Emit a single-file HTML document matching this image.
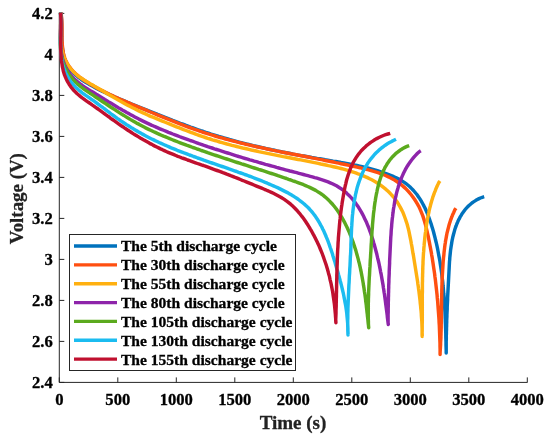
<!DOCTYPE html><html><head><meta charset="utf-8"><title>Discharge curves</title>
<style>html,body{margin:0;padding:0;background:#fff}svg{display:block}text{font-family:"Liberation Serif",serif;font-weight:bold;fill:#000;stroke:#000;stroke-width:0.3px}</style></head><body>
<svg width="550" height="436" viewBox="0 0 550 436">
<rect width="550" height="436" fill="#fff"/>
<path d="M59.3,12.9V382.4H527.5M59.3,382.4v-5M117.8,382.4v-5M176.3,382.4v-5M234.8,382.4v-5M293.3,382.4v-5M351.8,382.4v-5M410.3,382.4v-5M468.8,382.4v-5M527.3,382.4v-5M59.3,382.4h5M59.3,341.4h5M59.3,300.4h5M59.3,259.4h5M59.3,218.4h5M59.3,177.4h5M59.3,136.4h5M59.3,95.4h5M59.3,54.4h5M59.3,13.4h5" fill="none" stroke="#262626" stroke-width="1"/>
<g fill="none" stroke-width="3.45" stroke-linejoin="round" stroke-linecap="butt">
<path stroke="#0072BD" d="M60.8,12.6 61.1,15.3 61.4,18.0 61.6,20.6 61.7,23.3 61.7,26.0 61.8,28.7 61.8,31.4 61.8,34.2 61.8,36.9 61.9,39.6 62.0,42.4 62.2,45.1 62.4,47.9 62.8,50.7 63.2,53.5 63.8,56.2 64.6,58.9 65.5,61.4 66.7,63.8 68.0,66.1 69.5,68.3 71.1,70.3 72.8,72.3 74.7,74.1 76.7,75.9 78.8,77.6 81.0,79.2 83.2,80.7 85.6,82.2 87.9,83.6 90.3,85.0 92.7,86.3 95.2,87.6 97.6,88.9 100.0,90.1 102.5,91.4 105.0,92.5 107.4,93.7 109.9,94.8 112.4,95.9 114.9,97.0 117.4,98.1 119.9,99.2 122.4,100.2 124.9,101.2 127.4,102.3 129.9,103.3 132.4,104.3 134.9,105.3 137.4,106.3 139.9,107.3 142.5,108.3 145.0,109.3 147.5,110.3 150.0,111.3 152.5,112.3 155.1,113.3 157.6,114.4 160.1,115.4 162.6,116.4 165.1,117.4 167.7,118.4 170.2,119.4 172.7,120.4 175.3,121.3 177.8,122.3 180.3,123.3 182.9,124.2 185.4,125.2 188.0,126.1 190.5,127.1 193.1,128.0 195.6,128.9 198.2,129.8 200.8,130.7 203.4,131.5 205.9,132.4 208.5,133.2 211.1,134.1 213.7,134.9 216.3,135.7 218.9,136.5 221.5,137.2 224.1,138.0 226.8,138.7 229.4,139.5 232.0,140.2 234.6,140.9 237.3,141.6 239.9,142.3 242.5,143.0 245.2,143.6 247.8,144.3 250.5,144.9 253.1,145.6 255.8,146.2 258.4,146.8 261.1,147.4 263.7,148.0 266.4,148.6 269.1,149.2 271.7,149.8 274.4,150.3 277.0,150.9 279.7,151.4 282.4,152.0 285.0,152.5 287.7,153.0 290.4,153.5 293.1,154.1 295.7,154.6 298.4,155.1 301.1,155.6 303.7,156.0 306.4,156.5 309.1,157.0 311.8,157.5 314.4,157.9 317.1,158.4 319.8,158.8 322.4,159.3 325.1,159.8 327.8,160.2 330.4,160.6 333.1,161.1 335.7,161.5 338.4,162.0 341.1,162.5 343.7,162.9 346.4,163.4 349.0,163.9 351.7,164.4 354.3,165.0 357.0,165.5 359.6,166.1 362.3,166.7 364.9,167.4 367.6,168.0 370.2,168.7 372.9,169.4 375.5,170.2 378.2,171.0 380.8,171.8 383.4,172.7 386.1,173.6 388.7,174.6 391.3,175.6 393.8,176.7 396.3,177.9 398.8,179.1 401.2,180.5 403.5,181.9 405.7,183.4 407.8,185.0 409.8,186.7 411.7,188.6 413.5,190.5 415.2,192.5 416.9,194.5 418.4,196.7 419.9,198.9 421.3,201.2 422.6,203.5 423.9,205.9 425.1,208.3 426.2,210.8 427.3,213.4 428.3,215.9 429.3,218.5 430.2,221.2 431.1,223.8 431.9,226.5 432.7,229.1 433.5,231.8 434.2,234.5 434.9,237.2 435.5,239.8 436.2,242.5 436.8,245.2 437.4,247.9 437.9,250.5 438.4,253.2 438.9,255.9 439.4,258.5 439.9,261.2 440.3,263.9 440.7,266.6 441.1,269.2 441.5,271.9 441.8,274.6 442.1,277.2 442.5,279.9 442.8,282.6 443.0,285.3 443.3,287.9 443.5,290.6 443.7,293.3 444.0,296.0 444.2,298.7 444.3,301.3 444.5,304.0 444.7,306.7 444.8,309.4 445.0,312.1 445.1,314.8 445.2,317.5 445.3,320.2 445.4,323.0 445.5,325.7 445.6,328.4 445.7,331.1 445.8,333.9 445.8,336.6 445.9,339.3 446.0,342.1 446.0,344.8 446.1,347.6 446.2,350.4 446.2,353.1 446.2,351.1 446.2,349.2 446.2,347.2 446.2,345.3 446.2,343.3 446.2,341.4 446.3,339.5 446.3,337.5 446.3,335.6 446.4,333.7 446.4,331.8 446.5,329.9 446.5,328.0 446.6,326.1 446.6,324.2 446.7,322.3 446.7,320.4 446.8,318.5 446.9,316.6 446.9,314.7 447.0,312.9 447.1,311.0 447.2,309.1 447.2,307.2 447.3,305.3 447.4,303.4 447.5,301.6 447.6,299.7 447.6,297.8 447.7,295.9 447.8,294.0 447.9,292.1 448.0,290.3 448.1,288.4 448.2,286.5 448.3,284.6 448.4,282.7 448.5,280.8 448.6,278.9 448.7,276.9 448.8,275.0 448.9,273.1 449.0,271.2 449.1,269.3 449.2,267.3 449.3,265.4 449.4,263.5 449.5,261.5 449.7,259.6 449.8,257.6 450.0,255.7 450.2,253.8 450.4,251.9 450.6,249.9 450.9,248.0 451.2,246.1 451.5,244.2 451.8,242.3 452.1,240.4 452.5,238.6 452.9,236.7 453.4,234.8 453.9,233.0 454.4,231.1 454.9,229.3 455.5,227.5 456.2,225.7 456.8,224.0 457.6,222.2 458.3,220.5 459.2,218.9 460.0,217.2 461.0,215.6 461.9,214.0 463.0,212.5 464.1,211.0 465.2,209.5 466.4,208.1 467.7,206.8 469.0,205.5 470.5,204.2 471.9,203.0 473.5,201.9 475.1,200.9 476.8,199.8 478.6,198.9 480.4,198.0 482.3,197.3 484.2,196.7"/>
<path stroke="#FF4F10" d="M60.9,12.6 61.3,15.2 61.6,17.8 61.8,20.4 61.9,23.1 62.0,25.8 62.0,28.5 62.0,31.2 62.0,34.0 62.0,36.7 62.0,39.5 62.1,42.2 62.3,45.0 62.6,47.7 62.9,50.4 63.4,53.1 64.1,55.8 64.9,58.3 65.9,60.8 67.1,63.1 68.4,65.3 69.9,67.4 71.5,69.5 73.3,71.4 75.2,73.3 77.2,75.0 79.3,76.8 81.5,78.4 83.7,80.0 86.0,81.5 88.3,82.9 90.7,84.4 93.1,85.7 95.4,87.1 97.8,88.4 100.2,89.7 102.6,90.9 105.0,92.1 107.5,93.3 109.9,94.5 112.3,95.6 114.7,96.8 117.2,97.9 119.6,99.0 122.1,100.1 124.5,101.1 127.0,102.2 129.4,103.2 131.9,104.3 134.4,105.3 136.8,106.3 139.3,107.3 141.8,108.4 144.3,109.4 146.8,110.4 149.2,111.5 151.7,112.5 154.2,113.5 156.7,114.6 159.2,115.6 161.7,116.6 164.2,117.7 166.7,118.7 169.3,119.7 171.8,120.7 174.3,121.7 176.8,122.7 179.3,123.7 181.9,124.7 184.4,125.6 186.9,126.6 189.5,127.5 192.0,128.4 194.6,129.3 197.1,130.2 199.7,131.1 202.2,132.0 204.8,132.8 207.4,133.6 209.9,134.4 212.5,135.2 215.1,136.0 217.7,136.8 220.2,137.5 222.8,138.2 225.4,139.0 228.0,139.7 230.6,140.4 233.2,141.0 235.8,141.7 238.4,142.4 241.0,143.0 243.6,143.6 246.2,144.3 248.8,144.9 251.5,145.5 254.1,146.1 256.7,146.7 259.3,147.3 261.9,147.8 264.6,148.4 267.2,149.0 269.8,149.5 272.5,150.1 275.1,150.6 277.7,151.1 280.4,151.7 283.0,152.2 285.6,152.7 288.3,153.2 290.9,153.8 293.6,154.3 296.2,154.8 298.8,155.3 301.5,155.8 304.1,156.3 306.8,156.8 309.4,157.3 312.1,157.9 314.7,158.4 317.4,158.9 320.0,159.4 322.7,159.9 325.3,160.5 328.0,161.0 330.6,161.5 333.3,162.0 335.9,162.6 338.6,163.1 341.2,163.7 343.9,164.2 346.5,164.8 349.2,165.4 351.8,166.0 354.5,166.5 357.1,167.1 359.8,167.7 362.4,168.4 365.1,169.0 367.7,169.7 370.3,170.4 372.9,171.1 375.5,171.9 378.0,172.7 380.6,173.6 383.0,174.5 385.5,175.5 387.9,176.6 390.3,177.7 392.6,179.0 394.9,180.3 397.1,181.7 399.3,183.2 401.4,184.8 403.5,186.6 405.5,188.4 407.4,190.4 409.2,192.4 411.0,194.5 412.7,196.7 414.3,199.0 415.8,201.3 417.2,203.7 418.6,206.1 419.8,208.6 420.9,211.1 421.9,213.6 422.9,216.1 423.7,218.6 424.5,221.2 425.2,223.7 425.9,226.3 426.5,228.9 427.1,231.5 427.7,234.1 428.3,236.7 428.8,239.3 429.3,241.9 429.8,244.6 430.3,247.2 430.8,249.8 431.3,252.5 431.7,255.1 432.2,257.8 432.6,260.5 433.0,263.1 433.4,265.8 433.8,268.5 434.2,271.1 434.6,273.8 434.9,276.5 435.3,279.2 435.6,281.9 435.9,284.6 436.2,287.2 436.5,289.9 436.8,292.6 437.1,295.3 437.3,298.0 437.6,300.7 437.8,303.4 438.0,306.1 438.2,308.8 438.4,311.5 438.6,314.2 438.8,316.9 439.0,319.6 439.1,322.3 439.3,325.0 439.4,327.7 439.5,330.4 439.6,333.1 439.7,335.8 439.8,338.4 439.9,341.1 440.0,343.8 440.0,346.5 440.1,349.2 440.1,351.8 440.1,354.5 440.1,352.8 440.2,351.2 440.3,349.5 440.4,347.9 440.5,346.2 440.6,344.6 440.6,342.9 440.7,341.2 440.8,339.6 440.9,337.9 440.9,336.3 441.0,334.6 441.0,332.9 441.1,331.3 441.1,329.6 441.2,327.9 441.2,326.3 441.2,324.6 441.3,322.9 441.3,321.3 441.3,319.6 441.4,317.9 441.4,316.3 441.4,314.6 441.4,312.9 441.5,311.2 441.5,309.6 441.5,307.9 441.5,306.2 441.6,304.5 441.6,302.9 441.6,301.2 441.6,299.5 441.7,297.8 441.7,296.2 441.7,294.5 441.8,292.8 441.8,291.2 441.8,289.5 441.9,287.8 441.9,286.1 442.0,284.5 442.0,282.8 442.1,281.1 442.2,279.5 442.2,277.8 442.3,276.1 442.4,274.4 442.5,272.8 442.6,271.1 442.7,269.4 442.8,267.8 442.9,266.1 443.0,264.5 443.1,262.8 443.2,261.1 443.4,259.5 443.5,257.8 443.7,256.2 443.9,254.5 444.0,252.9 444.2,251.2 444.4,249.6 444.6,247.9 444.8,246.3 445.0,244.6 445.3,243.0 445.5,241.3 445.8,239.7 446.1,238.1 446.4,236.4 446.7,234.8 447.0,233.2 447.4,231.6 447.8,230.0 448.2,228.4 448.6,226.8 449.0,225.2 449.5,223.6 450.0,222.0 450.5,220.4 451.1,218.9 451.6,217.3 452.3,215.7 452.9,214.2 453.6,212.7 454.3,211.1 455.0,209.6 456.0,208.2"/>
<path stroke="#FFB010" d="M60.5,12.6 60.7,15.0 60.7,17.5 60.7,19.9 60.7,22.4 60.6,25.0 60.6,27.5 60.6,30.1 60.6,32.7 60.6,35.3 60.7,37.9 60.8,40.5 61.0,43.1 61.3,45.7 61.7,48.2 62.1,50.7 62.7,53.1 63.4,55.5 64.3,57.9 65.2,60.2 66.4,62.4 67.6,64.6 69.0,66.6 70.6,68.6 72.2,70.5 73.9,72.3 75.8,74.0 77.7,75.6 79.7,77.1 81.8,78.5 83.9,79.9 86.1,81.3 88.3,82.6 90.5,83.9 92.7,85.1 94.9,86.4 97.2,87.7 99.4,89.0 101.6,90.3 103.8,91.6 106.0,92.9 108.2,94.2 110.4,95.4 112.6,96.7 114.8,98.0 117.0,99.2 119.2,100.5 121.4,101.7 123.6,102.9 125.8,104.2 128.0,105.4 130.2,106.5 132.5,107.7 134.7,108.8 136.9,110.0 139.2,111.1 141.5,112.1 143.7,113.2 146.0,114.2 148.3,115.3 150.6,116.3 152.9,117.2 155.3,118.2 157.6,119.2 159.9,120.1 162.3,121.1 164.6,122.0 167.0,123.0 169.3,123.9 171.7,124.9 174.1,125.8 176.5,126.8 178.8,127.7 181.2,128.6 183.6,129.6 186.0,130.5 188.4,131.4 190.8,132.3 193.2,133.2 195.6,134.1 198.0,135.0 200.4,135.8 202.9,136.7 205.3,137.5 207.7,138.3 210.1,139.0 212.5,139.8 214.9,140.5 217.3,141.2 219.7,142.0 222.2,142.6 224.6,143.3 227.0,144.0 229.4,144.6 231.9,145.3 234.3,145.9 236.7,146.5 239.1,147.1 241.6,147.7 244.0,148.3 246.4,148.8 248.9,149.4 251.3,150.0 253.8,150.5 256.2,151.0 258.7,151.6 261.1,152.1 263.6,152.6 266.0,153.1 268.5,153.6 270.9,154.1 273.4,154.6 275.9,155.1 278.3,155.6 280.8,156.1 283.3,156.6 285.7,157.0 288.2,157.5 290.7,158.0 293.2,158.5 295.7,159.0 298.2,159.5 300.7,159.9 303.2,160.4 305.7,160.9 308.2,161.4 310.7,161.9 313.2,162.4 315.7,162.9 318.2,163.4 320.8,164.0 323.3,164.5 325.8,165.0 328.4,165.6 330.9,166.1 333.4,166.7 336.0,167.3 338.5,167.9 341.0,168.5 343.5,169.2 346.0,169.9 348.5,170.6 350.9,171.3 353.3,172.1 355.7,172.9 358.1,173.8 360.5,174.6 362.8,175.6 365.1,176.6 367.4,177.6 369.6,178.7 371.8,179.8 374.0,181.0 376.1,182.2 378.2,183.6 380.2,184.9 382.2,186.4 384.1,187.9 386.0,189.4 387.8,191.1 389.6,192.8 391.3,194.6 393.0,196.5 394.6,198.5 396.1,200.5 397.6,202.6 398.9,204.8 400.2,207.1 401.4,209.4 402.6,211.7 403.6,214.1 404.5,216.5 405.4,219.0 406.2,221.4 407.0,223.8 407.7,226.3 408.3,228.7 408.9,231.2 409.4,233.6 409.9,236.1 410.4,238.6 410.9,241.0 411.3,243.5 411.8,246.0 412.2,248.4 412.6,250.9 413.0,253.4 413.5,255.9 413.9,258.4 414.3,260.9 414.7,263.4 415.1,265.9 415.5,268.4 415.9,270.9 416.3,273.4 416.7,275.9 417.1,278.4 417.5,280.9 417.8,283.4 418.2,285.9 418.5,288.4 418.9,291.0 419.2,293.5 419.5,296.0 419.8,298.5 420.1,301.0 420.3,303.6 420.6,306.1 420.8,308.6 421.1,311.1 421.3,313.7 421.4,316.2 421.6,318.7 421.8,321.2 421.9,323.8 422.0,326.3 422.1,328.8 422.1,331.3 422.2,333.9 422.2,336.4 422.1,334.6 422.1,332.9 422.2,331.1 422.2,329.3 422.2,327.6 422.2,325.8 422.2,324.1 422.3,322.3 422.3,320.5 422.3,318.8 422.3,317.0 422.3,315.2 422.3,313.5 422.3,311.7 422.3,309.9 422.3,308.1 422.3,306.4 422.3,304.6 422.3,302.8 422.3,301.0 422.3,299.2 422.3,297.5 422.3,295.7 422.3,293.9 422.4,292.1 422.4,290.3 422.4,288.6 422.4,286.8 422.4,285.0 422.4,283.2 422.5,281.4 422.5,279.6 422.5,277.9 422.6,276.1 422.6,274.3 422.7,272.5 422.7,270.7 422.8,268.9 422.8,267.2 422.9,265.4 423.0,263.6 423.0,261.8 423.1,260.0 423.2,258.3 423.3,256.5 423.4,254.7 423.5,252.9 423.7,251.2 423.8,249.4 423.9,247.6 424.1,245.9 424.2,244.1 424.4,242.3 424.6,240.5 424.7,238.8 424.9,237.0 425.1,235.3 425.3,233.5 425.6,231.7 425.8,230.0 426.0,228.2 426.3,226.5 426.5,224.7 426.8,223.0 427.1,221.2 427.4,219.5 427.7,217.8 428.1,216.0 428.4,214.3 428.8,212.6 429.1,210.8 429.5,209.1 429.9,207.4 430.4,205.7 430.8,204.0 431.3,202.3 431.8,200.6 432.3,198.9 432.8,197.2 433.4,195.6 434.0,193.9 434.6,192.2 435.3,190.6 435.9,188.9 436.6,187.3 437.3,185.7 438.1,184.1 438.9,182.4 440.0,181.0"/>
<path stroke="#8E24AA" d="M60.5,12.6 60.7,14.8 60.7,17.0 60.7,19.3 60.7,21.5 60.7,23.9 60.6,26.2 60.6,28.5 60.5,30.9 60.4,33.3 60.4,35.7 60.4,38.0 60.4,40.4 60.5,42.8 60.6,45.2 60.8,47.6 61.0,49.9 61.3,52.2 61.7,54.5 62.1,56.8 62.7,59.0 63.4,61.2 64.1,63.4 65.0,65.5 66.0,67.6 67.1,69.6 68.3,71.5 69.6,73.4 71.0,75.2 72.4,76.9 74.0,78.6 75.6,80.2 77.4,81.7 79.2,83.1 81.0,84.5 82.9,85.9 84.8,87.2 86.8,88.4 88.8,89.7 90.8,90.9 92.8,92.1 94.8,93.3 96.8,94.6 98.8,95.8 100.8,97.0 102.8,98.2 104.8,99.5 106.8,100.7 108.7,101.9 110.7,103.1 112.7,104.3 114.7,105.5 116.7,106.7 118.7,107.9 120.7,109.0 122.7,110.2 124.7,111.3 126.7,112.5 128.7,113.6 130.7,114.7 132.8,115.8 134.8,116.9 136.9,118.0 138.9,119.1 141.0,120.1 143.0,121.1 145.1,122.1 147.2,123.1 149.3,124.1 151.4,125.1 153.5,126.0 155.6,126.9 157.8,127.9 159.9,128.8 162.0,129.7 164.2,130.5 166.3,131.4 168.5,132.3 170.6,133.1 172.8,134.0 175.0,134.8 177.1,135.6 179.3,136.5 181.5,137.3 183.7,138.1 185.8,138.9 188.0,139.7 190.2,140.5 192.4,141.2 194.6,142.0 196.8,142.8 199.0,143.6 201.2,144.3 203.4,145.1 205.5,145.8 207.7,146.6 209.9,147.3 212.1,148.0 214.4,148.8 216.6,149.5 218.8,150.2 221.0,150.9 223.2,151.6 225.4,152.3 227.6,153.0 229.8,153.7 232.0,154.4 234.2,155.1 236.5,155.8 238.7,156.5 240.9,157.1 243.1,157.8 245.3,158.5 247.6,159.1 249.8,159.8 252.0,160.4 254.2,161.1 256.5,161.7 258.7,162.4 260.9,163.0 263.2,163.6 265.4,164.3 267.6,164.9 269.8,165.5 272.1,166.1 274.3,166.7 276.5,167.4 278.8,168.0 281.0,168.6 283.2,169.2 285.5,169.8 287.7,170.4 289.9,171.0 292.2,171.5 294.4,172.1 296.7,172.7 298.9,173.3 301.1,173.9 303.4,174.5 305.6,175.1 307.9,175.7 310.2,176.3 312.4,176.9 314.7,177.6 317.0,178.2 319.2,178.9 321.5,179.6 323.7,180.3 325.9,181.1 328.1,181.9 330.2,182.8 332.4,183.8 334.4,184.8 336.5,185.8 338.4,187.0 340.3,188.2 342.2,189.5 344.0,190.9 345.8,192.3 347.4,193.9 349.1,195.5 350.7,197.1 352.2,198.8 353.6,200.6 355.1,202.4 356.4,204.3 357.8,206.2 359.0,208.2 360.2,210.2 361.4,212.2 362.5,214.2 363.6,216.3 364.6,218.4 365.6,220.5 366.6,222.6 367.5,224.8 368.4,227.0 369.2,229.1 370.0,231.3 370.8,233.5 371.5,235.8 372.3,238.0 373.0,240.2 373.6,242.5 374.3,244.7 374.9,247.0 375.5,249.2 376.1,251.5 376.7,253.7 377.2,256.0 377.7,258.2 378.3,260.5 378.8,262.7 379.3,265.0 379.7,267.2 380.2,269.5 380.6,271.8 381.1,274.0 381.5,276.3 381.9,278.6 382.3,280.9 382.7,283.1 383.1,285.4 383.4,287.7 383.8,290.0 384.1,292.3 384.5,294.5 384.8,296.8 385.1,299.1 385.4,301.4 385.7,303.7 386.0,306.0 386.3,308.3 386.6,310.6 386.9,312.9 387.2,315.2 387.4,317.6 387.7,319.9 388.0,322.2 388.3,324.5 388.1,322.4 388.1,320.4 388.1,318.3 388.1,316.3 388.1,314.3 388.2,312.2 388.2,310.2 388.2,308.2 388.3,306.1 388.3,304.1 388.3,302.1 388.4,300.0 388.4,298.0 388.5,296.0 388.5,293.9 388.6,291.9 388.6,289.9 388.7,287.8 388.7,285.8 388.8,283.8 388.9,281.8 388.9,279.7 389.0,277.7 389.1,275.7 389.2,273.6 389.2,271.6 389.3,269.6 389.4,267.5 389.5,265.5 389.6,263.5 389.6,261.4 389.7,259.4 389.8,257.3 389.9,255.3 390.0,253.3 390.1,251.2 390.2,249.2 390.3,247.1 390.4,245.1 390.5,243.0 390.6,241.0 390.7,238.9 390.8,236.9 391.0,234.8 391.1,232.8 391.2,230.7 391.4,228.7 391.6,226.6 391.7,224.6 391.9,222.5 392.1,220.5 392.3,218.4 392.6,216.4 392.8,214.3 393.1,212.3 393.3,210.3 393.6,208.3 394.0,206.2 394.3,204.2 394.6,202.2 395.0,200.2 395.4,198.2 395.9,196.2 396.3,194.2 396.8,192.2 397.3,190.3 397.9,188.3 398.4,186.4 399.0,184.5 399.7,182.5 400.4,180.7 401.1,178.8 401.9,176.9 402.7,175.1 403.5,173.3 404.4,171.5 405.3,169.7 406.3,167.9 407.3,166.2 408.4,164.5 409.6,162.8 410.7,161.2 412.0,159.5 413.3,157.9 414.6,156.4 416.0,154.9 417.5,153.3 419.0,151.9 420.8,150.8"/>
<path stroke="#5BAA1E" d="M60.5,12.6 60.7,14.8 60.8,16.9 60.9,19.1 60.9,21.3 60.8,23.5 60.8,25.7 60.7,28.0 60.6,30.3 60.6,32.6 60.5,34.9 60.4,37.2 60.4,39.5 60.4,41.8 60.4,44.1 60.5,46.4 60.6,48.7 60.8,51.0 61.1,53.3 61.5,55.5 61.9,57.7 62.4,59.9 63.0,62.0 63.7,64.1 64.5,66.2 65.4,68.2 66.4,70.1 67.4,72.0 68.6,73.9 69.8,75.7 71.2,77.4 72.6,79.1 74.0,80.7 75.6,82.3 77.2,83.8 78.9,85.2 80.7,86.6 82.5,88.0 84.3,89.3 86.1,90.6 88.0,91.9 89.9,93.2 91.8,94.4 93.7,95.7 95.6,97.0 97.5,98.2 99.4,99.5 101.2,100.7 103.1,102.0 105.0,103.2 106.9,104.5 108.7,105.7 110.6,107.0 112.5,108.2 114.4,109.4 116.2,110.6 118.1,111.9 120.0,113.1 121.9,114.3 123.8,115.4 125.7,116.6 127.6,117.8 129.5,118.9 131.4,120.1 133.4,121.2 135.3,122.3 137.2,123.4 139.2,124.4 141.2,125.5 143.1,126.5 145.1,127.6 147.1,128.6 149.2,129.6 151.2,130.5 153.2,131.5 155.2,132.4 157.3,133.4 159.4,134.3 161.4,135.2 163.5,136.1 165.6,136.9 167.6,137.8 169.7,138.7 171.8,139.5 173.9,140.3 176.0,141.2 178.1,142.0 180.2,142.8 182.3,143.6 184.4,144.4 186.5,145.2 188.6,145.9 190.7,146.7 192.8,147.5 194.9,148.2 197.1,149.0 199.2,149.7 201.3,150.5 203.4,151.2 205.5,151.9 207.6,152.7 209.7,153.4 211.8,154.1 214.0,154.8 216.1,155.5 218.2,156.2 220.3,156.9 222.4,157.6 224.6,158.3 226.7,159.0 228.8,159.7 230.9,160.4 233.1,161.1 235.2,161.8 237.3,162.5 239.5,163.2 241.6,163.9 243.7,164.5 245.8,165.2 248.0,165.9 250.1,166.6 252.2,167.3 254.4,168.0 256.5,168.7 258.7,169.4 260.8,170.0 262.9,170.7 265.1,171.4 267.2,172.1 269.3,172.8 271.5,173.5 273.6,174.2 275.8,174.9 277.9,175.7 280.1,176.4 282.2,177.1 284.4,177.8 286.5,178.5 288.6,179.3 290.8,180.0 292.9,180.8 295.1,181.5 297.2,182.3 299.3,183.1 301.5,183.9 303.6,184.7 305.6,185.6 307.7,186.5 309.7,187.4 311.7,188.4 313.7,189.4 315.7,190.4 317.6,191.6 319.4,192.7 321.3,194.0 323.0,195.2 324.7,196.6 326.4,198.0 328.0,199.5 329.6,201.1 331.1,202.7 332.6,204.3 334.0,206.0 335.4,207.8 336.8,209.6 338.1,211.5 339.3,213.3 340.5,215.3 341.7,217.2 342.8,219.2 343.9,221.2 345.0,223.2 346.0,225.2 347.0,227.3 347.9,229.3 348.9,231.4 349.7,233.5 350.6,235.5 351.4,237.6 352.2,239.8 353.0,241.9 353.7,244.0 354.4,246.1 355.1,248.3 355.8,250.4 356.4,252.6 357.0,254.7 357.6,256.9 358.2,259.1 358.7,261.2 359.3,263.4 359.8,265.6 360.3,267.8 360.7,270.0 361.2,272.2 361.6,274.4 362.0,276.5 362.4,278.8 362.8,281.0 363.2,283.2 363.5,285.4 363.9,287.6 364.2,289.8 364.5,292.0 364.9,294.2 365.2,296.5 365.5,298.7 365.7,300.9 366.0,303.1 366.3,305.4 366.5,307.6 366.8,309.8 367.0,312.1 367.3,314.3 367.5,316.5 367.8,318.8 368.0,321.0 368.2,323.2 368.5,325.5 368.7,327.7 368.5,325.5 368.4,323.3 368.4,321.1 368.3,318.9 368.3,316.7 368.3,314.5 368.3,312.3 368.3,310.1 368.3,307.9 368.3,305.7 368.3,303.5 368.4,301.3 368.4,299.1 368.5,296.9 368.6,294.7 368.6,292.6 368.7,290.4 368.8,288.2 368.9,286.0 369.0,283.8 369.1,281.6 369.2,279.5 369.3,277.3 369.5,275.1 369.6,272.9 369.7,270.7 369.8,268.6 370.0,266.4 370.1,264.2 370.2,262.0 370.3,259.8 370.5,257.6 370.6,255.5 370.7,253.3 370.9,251.1 371.0,248.9 371.1,246.7 371.2,244.5 371.4,242.3 371.5,240.1 371.6,237.9 371.8,235.7 371.9,233.5 372.0,231.4 372.2,229.2 372.4,227.0 372.5,224.8 372.7,222.6 372.9,220.4 373.1,218.2 373.3,216.0 373.5,213.8 373.8,211.6 374.1,209.4 374.3,207.2 374.6,205.0 374.9,202.8 375.3,200.6 375.6,198.4 376.0,196.2 376.4,194.0 376.9,191.8 377.3,189.7 377.8,187.5 378.4,185.3 378.9,183.2 379.5,181.1 380.2,179.0 380.9,176.9 381.7,174.9 382.5,172.9 383.3,170.9 384.3,169.0 385.2,167.1 386.3,165.3 387.4,163.4 388.6,161.7 389.8,160.0 391.2,158.3 392.6,156.7 394.1,155.2 395.6,153.7 397.3,152.3 399.1,151.0 400.9,149.7 402.8,148.5 404.9,147.4 407.0,146.4 409.2,145.6"/>
<path stroke="#1BBCF0" d="M60.5,12.6 60.6,14.8 60.7,16.9 60.8,19.1 60.9,21.2 60.9,23.4 60.8,25.6 60.8,27.7 60.8,29.9 60.7,32.1 60.7,34.3 60.6,36.5 60.6,38.7 60.5,40.9 60.5,43.1 60.6,45.3 60.6,47.5 60.7,49.8 60.8,52.0 61.0,54.2 61.3,56.4 61.6,58.6 61.9,60.7 62.4,62.9 62.9,65.0 63.5,67.1 64.2,69.2 65.0,71.2 65.8,73.2 66.8,75.1 67.8,77.0 68.9,78.8 70.1,80.6 71.3,82.4 72.7,84.0 74.1,85.6 75.6,87.2 77.2,88.6 78.8,90.1 80.5,91.4 82.2,92.8 84.0,94.1 85.8,95.4 87.6,96.6 89.4,97.9 91.2,99.2 93.0,100.4 94.8,101.7 96.6,103.0 98.4,104.3 100.1,105.6 101.9,106.9 103.6,108.2 105.4,109.5 107.1,110.9 108.9,112.2 110.6,113.5 112.3,114.8 114.1,116.0 115.9,117.3 117.6,118.6 119.4,119.8 121.2,121.1 123.0,122.3 124.8,123.5 126.6,124.7 128.4,125.8 130.3,127.0 132.1,128.1 134.0,129.2 135.8,130.4 137.7,131.4 139.6,132.5 141.5,133.6 143.4,134.6 145.4,135.7 147.3,136.7 149.2,137.7 151.2,138.7 153.2,139.6 155.1,140.6 157.1,141.5 159.1,142.5 161.1,143.4 163.1,144.3 165.1,145.2 167.1,146.0 169.1,146.9 171.2,147.8 173.2,148.6 175.2,149.4 177.2,150.3 179.3,151.1 181.3,151.9 183.4,152.7 185.4,153.4 187.4,154.2 189.5,155.0 191.5,155.7 193.6,156.5 195.6,157.2 197.6,158.0 199.7,158.7 201.7,159.4 203.8,160.2 205.8,160.9 207.9,161.6 209.9,162.3 212.0,163.0 214.0,163.7 216.1,164.4 218.1,165.1 220.2,165.8 222.2,166.5 224.3,167.2 226.3,167.9 228.4,168.7 230.4,169.4 232.5,170.1 234.5,170.8 236.6,171.5 238.6,172.3 240.7,173.0 242.7,173.7 244.8,174.5 246.8,175.2 248.9,176.0 250.9,176.7 253.0,177.5 255.0,178.3 257.1,179.1 259.1,179.9 261.2,180.7 263.2,181.5 265.2,182.4 267.3,183.2 269.3,184.1 271.4,185.0 273.4,185.9 275.4,186.8 277.5,187.7 279.5,188.6 281.5,189.6 283.4,190.6 285.4,191.6 287.4,192.6 289.3,193.7 291.2,194.8 293.1,195.9 294.9,197.1 296.7,198.3 298.5,199.5 300.2,200.8 301.9,202.1 303.6,203.5 305.2,204.9 306.7,206.3 308.3,207.8 309.7,209.3 311.1,210.9 312.5,212.5 313.8,214.2 315.1,215.9 316.3,217.7 317.5,219.5 318.6,221.3 319.7,223.2 320.7,225.1 321.8,227.0 322.7,229.0 323.7,230.9 324.6,233.0 325.5,235.0 326.3,237.0 327.2,239.1 328.0,241.2 328.8,243.3 329.5,245.4 330.2,247.5 331.0,249.6 331.7,251.7 332.4,253.8 333.0,256.0 333.7,258.1 334.3,260.2 335.0,262.3 335.6,264.5 336.2,266.6 336.8,268.7 337.5,270.8 338.1,272.8 338.6,274.9 339.2,277.0 339.8,279.1 340.3,281.2 340.9,283.3 341.4,285.3 341.9,287.4 342.4,289.5 342.9,291.6 343.4,293.7 343.8,295.8 344.2,297.9 344.6,300.0 345.0,302.1 345.4,304.2 345.8,306.3 346.1,308.4 346.4,310.6 346.7,312.7 346.9,314.9 347.1,317.0 347.3,319.2 347.5,321.4 347.7,323.6 347.8,325.9 347.9,328.1 347.9,330.4 348.0,332.6 348.0,334.9 347.9,332.5 347.8,330.1 347.8,327.7 347.7,325.3 347.7,322.9 347.7,320.6 347.8,318.2 347.8,315.8 347.8,313.4 347.9,311.0 347.9,308.7 348.0,306.3 348.1,303.9 348.2,301.5 348.3,299.2 348.4,296.8 348.5,294.4 348.6,292.1 348.7,289.7 348.8,287.3 348.9,284.9 349.1,282.6 349.2,280.2 349.3,277.8 349.4,275.5 349.6,273.1 349.7,270.7 349.8,268.3 350.0,266.0 350.1,263.6 350.2,261.2 350.3,258.8 350.4,256.5 350.6,254.1 350.7,251.7 350.8,249.3 350.9,246.9 350.9,244.6 351.0,242.2 351.1,239.8 351.2,237.4 351.3,235.0 351.4,232.6 351.5,230.2 351.6,227.8 351.8,225.4 351.9,223.1 352.1,220.7 352.2,218.3 352.4,215.9 352.7,213.5 352.9,211.2 353.2,208.8 353.5,206.4 353.8,204.0 354.2,201.7 354.6,199.3 355.1,197.0 355.5,194.6 356.1,192.3 356.6,190.0 357.2,187.6 357.9,185.3 358.6,183.1 359.4,180.8 360.2,178.6 361.0,176.4 361.9,174.2 362.9,172.1 363.9,169.9 365.0,167.9 366.2,165.8 367.4,163.8 368.7,161.9 370.0,160.0 371.5,158.1 373.0,156.3 374.5,154.5 376.2,152.8 377.9,151.2 379.6,149.6 381.5,148.0 383.4,146.6 385.3,145.2 387.4,143.8 389.5,142.6 391.7,141.4 393.9,140.3 396.0,139.2"/>
<path stroke="#C0102F" d="M60.6,12.6 60.7,14.7 60.8,16.7 60.9,18.8 61.0,20.9 61.0,23.0 61.0,25.0 61.0,27.1 61.0,29.2 60.9,31.3 60.9,33.4 60.9,35.5 60.8,37.6 60.8,39.8 60.7,41.9 60.7,44.0 60.7,46.1 60.7,48.2 60.8,50.3 60.9,52.4 61.0,54.5 61.1,56.6 61.3,58.6 61.5,60.7 61.8,62.8 62.1,64.8 62.4,66.9 62.9,68.9 63.3,70.9 63.9,72.9 64.5,74.9 65.3,76.8 66.1,78.7 67.0,80.6 68.0,82.4 69.1,84.2 70.2,85.9 71.5,87.6 72.8,89.2 74.2,90.7 75.7,92.2 77.2,93.7 78.7,95.0 80.3,96.4 81.9,97.7 83.6,98.9 85.3,100.2 87.0,101.4 88.7,102.5 90.4,103.7 92.1,104.9 93.9,106.1 95.6,107.3 97.3,108.5 98.9,109.7 100.6,110.9 102.3,112.1 104.0,113.3 105.7,114.6 107.4,115.8 109.1,117.0 110.7,118.3 112.4,119.5 114.1,120.7 115.8,121.9 117.5,123.1 119.2,124.3 120.9,125.5 122.7,126.7 124.4,127.9 126.1,129.0 127.9,130.2 129.6,131.3 131.4,132.5 133.1,133.6 134.9,134.7 136.7,135.8 138.5,136.9 140.3,138.0 142.1,139.0 143.9,140.1 145.7,141.1 147.5,142.1 149.3,143.1 151.2,144.1 153.0,145.1 154.9,146.1 156.8,147.0 158.6,147.9 160.5,148.9 162.4,149.7 164.3,150.6 166.2,151.5 168.1,152.3 170.0,153.1 172.0,153.9 173.9,154.7 175.8,155.5 177.8,156.3 179.7,157.0 181.7,157.8 183.7,158.5 185.6,159.2 187.6,160.0 189.6,160.7 191.5,161.4 193.5,162.1 195.5,162.8 197.4,163.5 199.4,164.2 201.4,164.9 203.4,165.5 205.3,166.2 207.3,166.9 209.3,167.6 211.2,168.3 213.2,169.1 215.1,169.8 217.1,170.5 219.0,171.2 221.0,171.9 222.9,172.7 224.9,173.4 226.8,174.2 228.7,174.9 230.7,175.7 232.6,176.4 234.5,177.2 236.5,177.9 238.4,178.7 240.4,179.5 242.3,180.3 244.2,181.0 246.2,181.8 248.1,182.6 250.0,183.4 252.0,184.2 253.9,185.0 255.9,185.8 257.8,186.6 259.8,187.4 261.7,188.2 263.7,189.0 265.6,189.8 267.6,190.7 269.5,191.5 271.4,192.4 273.4,193.3 275.2,194.2 277.1,195.2 279.0,196.2 280.8,197.2 282.5,198.3 284.3,199.4 286.0,200.6 287.7,201.8 289.3,203.1 290.9,204.4 292.4,205.8 293.9,207.2 295.4,208.7 296.8,210.2 298.2,211.8 299.5,213.3 300.8,215.0 302.1,216.6 303.4,218.3 304.6,220.0 305.8,221.8 306.9,223.5 308.1,225.3 309.2,227.1 310.2,228.9 311.3,230.7 312.3,232.5 313.3,234.4 314.3,236.2 315.3,238.1 316.2,239.9 317.1,241.8 318.0,243.7 318.9,245.6 319.7,247.5 320.5,249.5 321.3,251.4 322.1,253.3 322.8,255.3 323.5,257.2 324.2,259.2 324.9,261.2 325.6,263.2 326.2,265.1 326.8,267.1 327.4,269.1 328.0,271.2 328.5,273.2 329.1,275.2 329.6,277.2 330.0,279.3 330.5,281.3 331.0,283.3 331.4,285.4 331.8,287.4 332.2,289.5 332.6,291.5 332.9,293.6 333.2,295.7 333.5,297.7 333.8,299.8 334.1,301.9 334.4,304.0 334.6,306.0 334.8,308.1 335.0,310.2 335.2,312.3 335.4,314.4 335.5,316.4 335.7,318.5 335.8,320.6 335.9,322.7 335.7,320.3 335.8,318.0 335.9,315.6 336.0,313.2 336.0,310.9 336.1,308.5 336.2,306.1 336.2,303.8 336.3,301.4 336.3,299.0 336.4,296.7 336.4,294.3 336.5,291.9 336.5,289.6 336.6,287.2 336.6,284.9 336.7,282.5 336.7,280.1 336.8,277.8 336.8,275.4 336.9,273.1 337.0,270.7 337.0,268.4 337.1,266.0 337.2,263.6 337.3,261.3 337.3,258.9 337.4,256.6 337.5,254.2 337.6,251.9 337.7,249.5 337.9,247.2 338.0,244.8 338.1,242.4 338.3,240.1 338.4,237.7 338.6,235.4 338.8,233.0 339.0,230.7 339.2,228.3 339.4,226.0 339.6,223.6 339.8,221.3 340.1,218.9 340.3,216.6 340.6,214.2 340.9,211.9 341.2,209.5 341.5,207.1 341.9,204.8 342.2,202.4 342.6,200.1 343.0,197.7 343.4,195.4 343.8,193.0 344.3,190.7 344.7,188.3 345.2,186.0 345.8,183.6 346.3,181.3 346.9,179.0 347.6,176.7 348.3,174.5 349.1,172.3 349.9,170.1 350.7,167.9 351.7,165.7 352.7,163.6 353.7,161.6 354.9,159.6 356.1,157.6 357.4,155.7 358.8,153.8 360.3,152.0 361.8,150.2 363.5,148.5 365.2,146.9 366.9,145.3 368.8,143.9 370.7,142.4 372.7,141.1 374.7,139.8 376.8,138.6 378.9,137.5 381.1,136.5 383.4,135.5 385.6,134.7 387.9,134.0 390.2,133.3"/>
</g>
<g font-size="16.6" text-anchor="middle">
<text x="59.3" y="404.5">0</text>
<text x="117.8" y="404.5">500</text>
<text x="176.3" y="404.5">1000</text>
<text x="234.8" y="404.5">1500</text>
<text x="293.3" y="404.5">2000</text>
<text x="351.8" y="404.5">2500</text>
<text x="410.3" y="404.5">3000</text>
<text x="468.8" y="404.5">3500</text>
<text x="527.3" y="404.5">4000</text>
</g>
<g font-size="16.6" text-anchor="end">
<text x="52.7" y="388.2">2.4</text>
<text x="52.7" y="347.2">2.6</text>
<text x="52.7" y="306.2">2.8</text>
<text x="52.7" y="265.2">3</text>
<text x="52.7" y="224.2">3.2</text>
<text x="52.7" y="183.2">3.4</text>
<text x="52.7" y="142.2">3.6</text>
<text x="52.7" y="101.2">3.8</text>
<text x="52.7" y="60.2">4</text>
<text x="52.7" y="19.2">4.2</text>
</g>
<text x="293" y="428.6" font-size="19" text-anchor="middle" style="fill:#222;stroke:#222">Time (s)</text>
<text transform="translate(22.5,198.7) rotate(-90)" font-size="18.9" text-anchor="middle" style="fill:#222;stroke:#222">Voltage (V)</text>
<rect x="69.5" y="234.5" width="226" height="136" fill="#fff" stroke="#262626" stroke-width="1"/>
<g font-size="15.55">
<path d="M74,246.0H117" stroke="#0072BD" stroke-width="3.4" fill="none"/>
<text x="121" y="251.4">The 5th discharge cycle</text>
<path d="M74,264.9H117" stroke="#FF4F10" stroke-width="3.4" fill="none"/>
<text x="121" y="270.2">The 30th discharge cycle</text>
<path d="M74,283.7H117" stroke="#FFB010" stroke-width="3.4" fill="none"/>
<text x="121" y="289.1">The 55th discharge cycle</text>
<path d="M74,302.6H117" stroke="#8E24AA" stroke-width="3.4" fill="none"/>
<text x="121" y="307.9">The 80th discharge cycle</text>
<path d="M74,321.4H117" stroke="#5BAA1E" stroke-width="3.4" fill="none"/>
<text x="121" y="326.8">The 105th discharge cycle</text>
<path d="M74,340.2H117" stroke="#1BBCF0" stroke-width="3.4" fill="none"/>
<text x="121" y="345.6">The 130th discharge cycle</text>
<path d="M74,359.1H117" stroke="#C0102F" stroke-width="3.4" fill="none"/>
<text x="121" y="364.5">The 155th discharge cycle</text>
</g>
</svg></body></html>
